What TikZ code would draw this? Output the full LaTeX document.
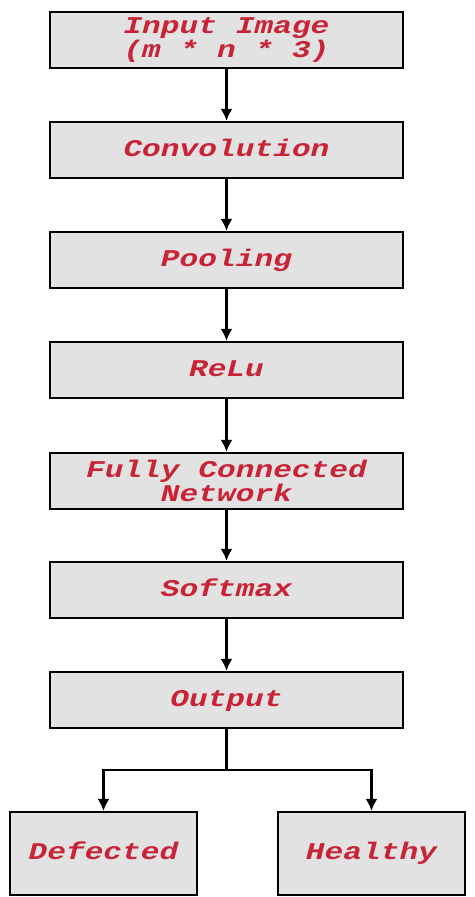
\documentclass[tikz,border=0pt]{standalone}
\usepackage{fontspec}
\newfontfamily\boxfont[FakeStretch=1.3]{Liberation Mono}
\usepackage{tikz}
\usetikzlibrary{arrows.meta,positioning}
\definecolor{boxred}{RGB}{200,35,55}
\definecolor{boxgray}{RGB}{226,226,226}

\tikzset{
  stage/.style={draw=black, line width=2.2pt, fill=boxgray, minimum width=353pt,
    minimum height=56pt, inner sep=0pt, align=center, text=boxred,
    font=\boxfont\bfseries\itshape\fontsize{24}{21}\selectfont},
  oneline/.style={text height=16pt, text depth=4pt},
  result/.style={stage, oneline, minimum width=187pt, minimum height=83pt},
  flow/.style={-{Latex[length=12pt,width=12pt]}, line width=2.5pt}
}

\begin{document}
\begin{tikzpicture}[x=1pt,y=-1pt]
\useasboundingbox (0,0) rectangle (474,897);
% Main stages
\node[stage] (input) at (226.5,40) {Input Image\\(m * n * 3)};
\node[stage,oneline] (conv) at (226.5,150) {Convolution};
\node[stage,oneline] (pool) at (226.5,260) {Pooling};
\node[stage,oneline] (relu) at (226.5,370) {ReLu};
\node[stage] (fcn) at (226.5,481) {Fully Connected\\Network};
\node[stage,oneline] (soft) at (226.5,590) {Softmax};
\node[stage,oneline] (out) at (226.5,700) {Output};

% Classes
\node[result] (def) at (103.5,853.5) {Defected};
\node[result] (heal) at (371.5,853.5) {Healthy};

\draw[flow] (input) -- (conv);
\draw[flow] (conv) -- (pool);
\draw[flow] (pool) -- (relu);
\draw[flow] (relu) -- (fcn);
\draw[flow] (fcn) -- (soft);
\draw[flow] (soft) -- (out);

% Split to classes
\coordinate (fork) at (226.5,770);
\draw[line width=2.5pt] (out.south) -- (fork);
\draw[flow] (fork) -| (def.north);
\draw[flow] (fork) -| (heal.north);
\end{tikzpicture}
\end{document}
